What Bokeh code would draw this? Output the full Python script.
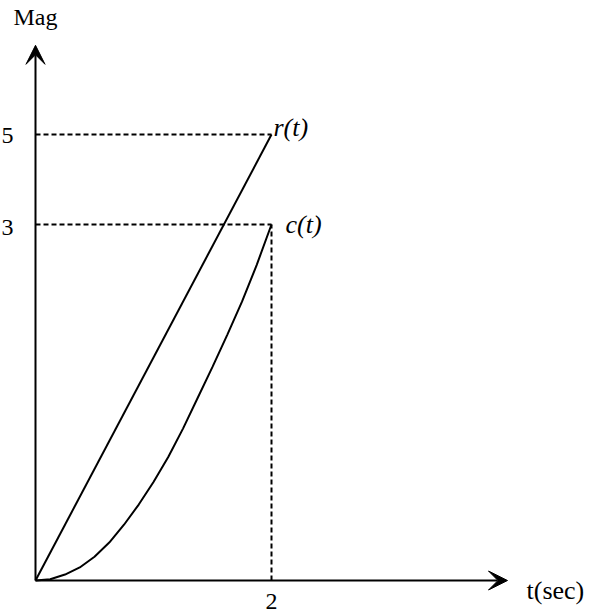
from bokeh.plotting import figure
from bokeh.models import Range1d, Arrow, VeeHead
from bokeh.core.properties import value
from bokeh.embed import file_html
from bokeh.resources import INLINE

# ---------------- data ----------------
t_axis_max = 4.0          # length of the time axis arrow
mag_axis_max = 6.0        # length of the magnitude axis arrow

r_t = [0.0, 2.0]          # r(t): ramp
r_val = [0.0, 5.0]

c_t = [0, 0.125, 0.25, 0.375, 0.5, 0.625, 0.75, 0.875, 1.0, 1.125,
       1.25, 1.375, 1.5, 1.625, 1.75, 1.875, 2.0]
c_val = [0, 0.01, 0.05, 0.11, 0.20, 0.32, 0.47, 0.64, 0.83, 1.04,
         1.28, 1.54, 1.80, 2.07, 2.35, 2.66, 3.0]

t_mark = 2.0
r_mark = 5.0
c_mark = 3.0
x_tick_label = "2"
r_tick_label = "5"
c_tick_label = "3"
y_axis_title = "Mag"
x_axis_title = "t(sec)"
r_label = "r(t)"
c_label = "c(t)"

# ---------------- layout ----------------
W, H = 590, 615
ORIG_X = 35      # px from left
ORIG_Y = 35      # px from bottom
PX_T = 118.0     # px per second
PX_R = 89.2      # px per magnitude unit (r scale)
PX_C = 118.67    # px per magnitude unit (c scale, drawn not-to-scale)

FONT = value("Liberation Serif")
FS = "24px"
FS_L = "26px"

p = figure(width=W, height=H, output_backend="svg", toolbar_location=None,
           x_axis_location=None, y_axis_location=None,
           x_range=Range1d(-ORIG_X / PX_T, (W - ORIG_X) / PX_T),
           y_range=Range1d(-ORIG_Y / PX_R, (H - ORIG_Y) / PX_R),
           min_border=0, outline_line_color=None,
           background_fill_color="white", border_fill_color="white")
p.extra_y_ranges = {"c": Range1d(-ORIG_Y / PX_C, (H - ORIG_Y) / PX_C)}
p.xgrid.visible = False
p.ygrid.visible = False

# axes as arrows
p.add_layout(Arrow(end=VeeHead(size=19, fill_color="black", line_color="black", line_width=1),
                   x_start=0, y_start=0, x_end=t_axis_max, y_end=0,
                   line_color="black", line_width=2))
p.add_layout(Arrow(end=VeeHead(size=19, fill_color="black", line_color="black", line_width=1),
                   x_start=0, y_start=0, x_end=0, y_end=mag_axis_max,
                   line_color="black", line_width=2))

# dashed guides
DASH = dict(line_color="black", line_width=2, line_dash="5 3")
p.line([0, t_mark], [r_mark, r_mark], **DASH)
p.line([0, t_mark], [c_mark, c_mark], y_range_name="c", **DASH)
p.line([t_mark, t_mark], [0, c_mark], y_range_name="c", **DASH)

# curves
p.line(r_t, r_val, line_color="black", line_width=2)
p.line(c_t, c_val, line_color="black", line_width=2, y_range_name="c")

# texts
p.text(x=[0], y=[r_mark], text=[r_tick_label], text_font=FONT, text_font_size=FS,
       text_align="right", text_baseline="alphabetic", x_offset=-22, y_offset=1,
       text_color="black")
p.text(x=[0], y=[c_mark], text=[c_tick_label], text_font=FONT, text_font_size=FS,
       text_align="right", text_baseline="alphabetic", x_offset=-22, y_offset=3,
       text_color="black", y_range_name="c")
p.text(x=[t_mark], y=[0], text=[x_tick_label], text_font=FONT, text_font_size=FS,
       text_align="center", text_baseline="alphabetic", x_offset=0, y_offset=21,
       text_color="black")
p.text(x=[0], y=[mag_axis_max], text=[y_axis_title], text_font=FONT, text_font_size=FS,
       text_align="center", text_baseline="alphabetic", y_offset=-28,
       text_color="black")
p.text(x=[t_axis_max], y=[0], text=[x_axis_title], text_font=FONT, text_font_size=FS_L,
       text_align="left", text_baseline="alphabetic", x_offset=19, y_offset=10,
       text_color="black")
p.text(x=[r_t[-1]], y=[r_val[-1]], text=[r_label], text_font=FONT, text_font_size=FS_L,
       text_font_style="italic", text_align="left", text_baseline="alphabetic",
       x_offset=2, y_offset=-7, text_color="black")
p.text(x=[c_t[-1]], y=[c_val[-1]], text=[c_label], text_font=FONT, text_font_size=FS_L,
       text_font_style="italic", text_align="left", text_baseline="alphabetic",
       x_offset=14, y_offset=0, text_color="black", y_range_name="c")

open("out.html", "w").write(file_html(p, INLINE))
